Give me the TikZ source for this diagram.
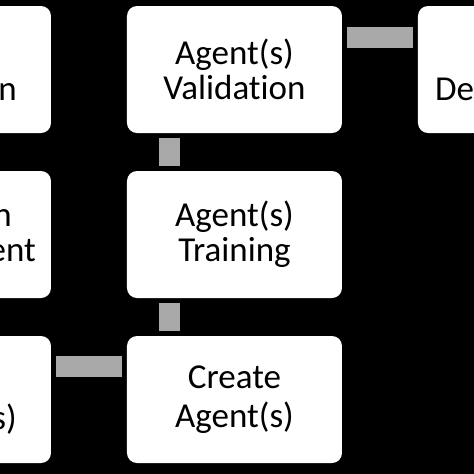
\documentclass[tikz,border=0pt]{standalone}
\usepackage{fontspec}
\setmainfont[Ligatures={NoCommon}]{Carlito}
\usepackage{tikz}
\usetikzlibrary{matrix,positioning}
\definecolor{bargray}{RGB}{168,168,168}

\begin{document}
\begin{tikzpicture}[x=1pt,y=-1pt,box/.style={fill=white,rounded corners=10pt,minimum width=215pt,minimum height=127pt,inner sep=0pt,align=center,font=\fontsize{35}{35}\selectfont},
frag/.style={inner sep=0pt,font=\fontsize{35}{35}\selectfont},
link/.style={draw=bargray,line width=21pt,shorten <=5pt,shorten >=5pt}]
\fill[black] (0,0) rectangle (474,474);
\useasboundingbox (0,0) rectangle (474,474);
\clip (0,0) rectangle (474,474);
\matrix[row sep=38pt,column sep=76pt] at (234.5,234.5)
{
\node(l1)[box]{};  \pgfmatrixnextcell \node(valid)[box]{Agent(s)\\Validation};  \pgfmatrixnextcell \node(dep)[box]{};\\
\node(l2)[box]{};  \pgfmatrixnextcell \node(train)[box]{Agent(s)\\Training};\\
\node(l3)[box]{};  \pgfmatrixnextcell \node(create)[box]{Create\\[4pt]Agent(s)};\\
};
% visible ends of the cut off texts
\node(t1)[frag,anchor=base east] at (17,100) {n};
\node(t2)[frag,anchor=base east] at (12,226) {n};
\node(t3)[frag,anchor=base east] at (36,261) {ent};
\node(t4)[frag,anchor=base east] at (17,429) {s)};
\node(t5)[frag,anchor=base west] at (435,100) {De};
\draw [link] ([yshift=33pt]l3.east) to ([yshift=33pt]create.west);
\draw [link] ([xshift=-65pt]create.north) to ([xshift=-65pt]train.south);
\draw [link] ([xshift=-65pt]train.north) to ([xshift=-65pt]valid.south);
\draw [link] ([yshift=32pt]valid.east) to ([yshift=32pt]dep.west);
\end{tikzpicture}
\end{document}
